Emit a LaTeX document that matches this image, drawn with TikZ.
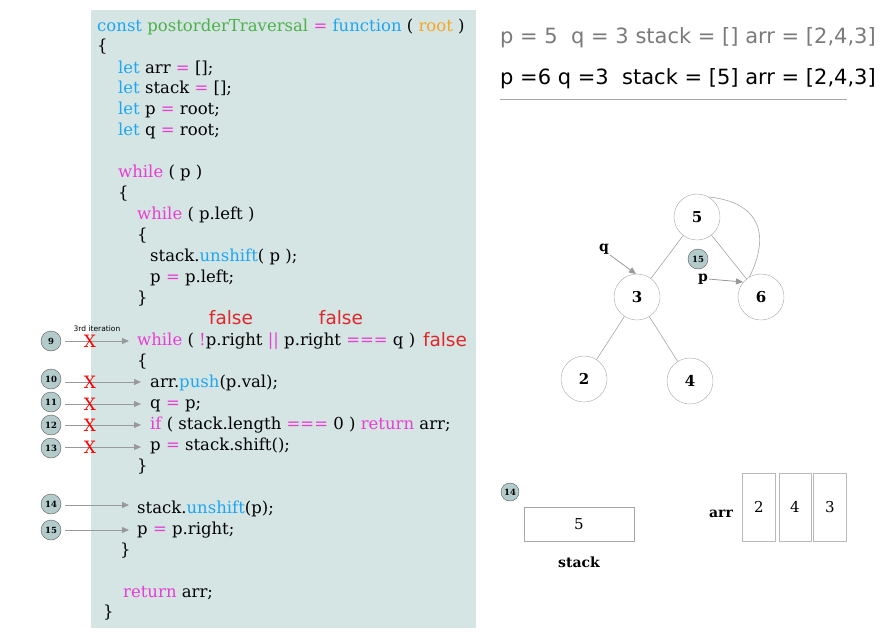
\documentclass[tikz,border=0pt]{standalone}
\usepackage{fontspec}
\setmainfont{DejaVu Serif}
\newfontfamily\handfont{DejaVu Sans}
\usetikzlibrary{arrows.meta}
\definecolor{kwblue}{HTML}{1FA6F2}
\definecolor{kwgreen}{HTML}{4DB04A}
\definecolor{kworange}{HTML}{F5A623}
\definecolor{kwpink}{HTML}{E93CD3}
\definecolor{panel}{HTML}{D5E5E3}
\definecolor{stepfill}{HTML}{B3CBCB}
\definecolor{handgray}{HTML}{7A7A7A}
\definecolor{redhand}{HTML}{E0262B}
\newcommand\cblue[1]{\textcolor{kwblue}{#1}}
\newcommand\cgreen[1]{\textcolor{kwgreen}{#1}}
\newcommand\corange[1]{\textcolor{kworange}{#1}}
\newcommand\cpink[1]{\textcolor{kwpink}{#1}}
\newcommand\codefont{\fontsize{16.5}{18}\selectfont}
\begin{document}
\begin{tikzpicture}[x=1pt,y=-1pt,
  code/.style={anchor=base west, inner sep=0pt, font=\codefont},
  falsemark/.style={font=\handfont\fontsize{18.5}{18.5}\selectfont, text=redhand, inner sep=0pt},
  xmark/.style={font=\fontsize{17}{17}\selectfont, text=red, inner sep=0pt},
  stepnum/.style={circle, fill=stepfill, draw=gray!70!black, minimum size=20pt, inner sep=0pt, font=\bfseries\fontsize{8.5}{8.5}\selectfont},
  garrow/.style={draw=gray!80, line width=0.8pt, -{Triangle[width=6pt,length=7pt]}, shorten <=4pt},
  treenode/.style={circle, draw=gray!70, minimum size=46pt, inner sep=0pt, font=\bfseries\fontsize{15}{15}\selectfont},
  edge/.style={draw=gray!70, line width=0.6pt},
  lbl/.style={font=\bfseries\fontsize{14}{14}\selectfont, inner sep=0pt},
  arrbox/.style={draw=gray!55, line width=1pt, minimum width=32pt, minimum height=68pt, inner sep=0pt, font=\fontsize{15}{15}\selectfont},
  hand/.style={anchor=west, inner sep=0pt, font=\handfont\fontsize{21}{21}\selectfont}
]
\useasboundingbox (0,0) rectangle (883,640);
% code panel
\fill[panel] (91,10) rectangle (476,628);
\node[code] (l1) at (97,31) {\cblue{const} \cgreen{postorderTraversal} \cpink{=} \cblue{function} ( \corange{root} )};
\node[code] (l2) at (97,51) {\{};
\node[code] (l3) at (118,73) {\cblue{let} arr \cpink{=} [];};
\node[code] (l4) at (118,93) {\cblue{let} stack \cpink{=} [];};
\node[code] (l5) at (118,114) {\cblue{let} p \cpink{=} root;};
\node[code] (l6) at (118,135) {\cblue{let} q \cpink{=} root;};
\node[code] (l7) at (118,177) {\cpink{while} ( p )};
\node[code] (l8) at (118,198) {\{};
\node[code] (l9) at (137,219) {\cpink{while} ( p.left )};
\node[code] (l10) at (137,240) {\{};
\node[code] (l11) at (150,261) {stack.\cblue{unshift}( p );};
\node[code] (l12) at (150,282) {p \cpink{=} p.left;};
\node[code] (l13) at (137,303) {\}};
\node[code] (l14) at (137,345) {\cpink{while} ( \cpink{!}p.right \cpink{||} p.right \cpink{===} q )};
\node[code] (l15) at (137,366) {\{};
\node[code] (l16) at (150,387) {arr.\cblue{push}(p.val);};
\node[code] (l17) at (150,408) {q \cpink{=} p;};
\node[code] (l18) at (150,429) {\cpink{if} ( stack.length \cpink{===} 0 ) \cpink{return} arr;};
\node[code] (l19) at (150,450) {p \cpink{=} stack.shift();};
\node[code] (l20) at (137,471) {\}};
\node[code] (l21) at (137,513) {stack.\cblue{unshift}(p);};
\node[code] (l22) at (137,534) {p \cpink{=} p.right;};
\node[code] (l23) at (120,555) {\}};
\node[code] (l24) at (123,597) {\cpink{return} arr;};
\node[code] (l25) at (103,617) {\}};
% red annotations
\node[falsemark] (f1) at (231,318) {false};
\node[falsemark] (f2) at (341,318) {false};
\node[falsemark] (f3) at (445,340) {false};
% step markers
\node[stepnum] (c9) at (51,341) {9};
\node[stepnum] (c10) at (51,379) {10};
\node[stepnum] (c11) at (51,402) {11};
\node[stepnum] (c12) at (51,425) {12};
\node[stepnum] (c13) at (51,448) {13};
\node[stepnum] (c14) at (51,504) {14};
\node[stepnum] (c15) at (51,530) {15};
\coordinate (t9) at (129,341);
\coordinate (t10) at (141,382);
\coordinate (t11) at (141,404);
\coordinate (t12) at (141,425);
\coordinate (t13) at (141,447);
\coordinate (t14) at (129,505);
\coordinate (t15) at (129,530);
\draw[garrow] (c9.east |- t9) -- (t9);
\draw[garrow] (c10.east |- t10) -- (t10);
\draw[garrow] (c11.east |- t11) -- (t11);
\draw[garrow] (c12.east |- t12) -- (t12);
\draw[garrow] (c13.east |- t13) -- (t13);
\draw[garrow] (c14.east |- t14) -- (t14);
\draw[garrow] (c15.east |- t15) -- (t15);
\node[font=\handfont\fontsize{7.5}{7.5}\selectfont, inner sep=0pt] (iter) at (97,329) {3rd iteration};
\node[xmark] (x9) at (90,341) {X};
\node[xmark] (x10) at (90,382) {X};
\node[xmark] (x11) at (90,404) {X};
\node[xmark] (x12) at (90,425) {X};
\node[xmark] (x13) at (90,447) {X};
% state text
\node[hand, text=handgray] (h1) at (500,38) {p = 5 \ q = 3 stack = [] arr = [2,4,3]};
\node[hand, text=black] (h2) at (500,79) {p =6 q =3 \ stack = [5] arr = [2,4,3]};
\draw[gray!70, line width=0.8pt] (500,99) -- (847,99);
% tree
\node[treenode] (n5) at (697,217) {5};
\node[treenode] (n3) at (637,297) {3};
\node[treenode] (n6) at (761,297) {6};
\node[treenode] (n2) at (584,379) {2};
\node[treenode] (n4) at (690,381) {4};
\draw[edge] (n5) -- (n3);
\draw[edge] (n5) -- (n6);
\draw[edge] (n3) -- (n2);
\draw[edge] (n3) -- (n4);
\draw[edge] (n5.60) .. controls (765,203) and (768,240) .. (n6.120);
\node[lbl] (ql) at (604,249) {q};
\coordinate (tq) at (636,274);
\draw[garrow, shorten <=1pt] (ql.south east) -- (tq);
\node[stepnum] (c15t) at (698,259) {15};
\node[lbl] (pl) at (703,279) {p};
\coordinate (tp) at (743,282);
\draw[garrow, shorten <=1pt] (pl.east) -- (tp);
% stack and arr
\node[stepnum, minimum size=18pt] (c14b) at (510,492) {14};
\node[draw=gray!70, line width=0.8pt, minimum width=110pt, minimum height=34pt, inner sep=0pt, font=\fontsize{15}{15}\selectfont] (sbox) at (579,524) {5};
\node[lbl] (slbl) at (579,562) {stack};
\node[lbl] (albl) at (721,514) {arr};
\node[arrbox, minimum width=33pt] (a1) at (759,507) {2};
\node[arrbox] (a2) at (795,507) {4};
\node[arrbox, minimum width=33pt] (a3) at (830,507) {3};
\end{tikzpicture}
\end{document}
